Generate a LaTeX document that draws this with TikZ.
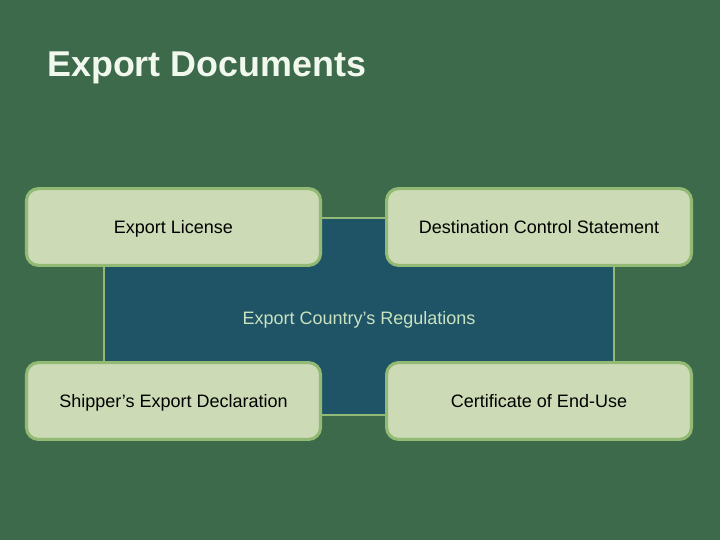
\documentclass[tikz,border=0pt]{standalone}
\usepackage{fontspec}
\setmainfont{Liberation Sans}
\usetikzlibrary{positioning}

\definecolor{bggreen}{HTML}{3D6A4A}
\definecolor{coreblue}{HTML}{1F5366}
\definecolor{boxfill}{HTML}{CCDBB6}
\definecolor{boxline}{HTML}{93BA74}
\definecolor{titletext}{HTML}{F1F8EE}
\definecolor{coretext}{HTML}{C9E2C0}

\tikzset{
  docbox/.style = {fill = boxfill, draw = boxline, line width = 2.2pt, shape = rectangle,
    rounded corners = 0.3cm, minimum width = 7.35cm, minimum height = 1.92cm,
    text height = 0.9em, text depth = 0pt, font = \fontsize{12.8}{15}\selectfont},
  widebox/.style = {docbox, minimum width = 7.62cm},
  corebox/.style = {fill = coreblue, draw = boxline, line width = 1.6pt, shape = rectangle,
    minimum width = 12.75cm, minimum height = 4.92cm}
}

\begin{document}
\begin{tikzpicture}[x = 0.025cm, y = -0.025cm]
\useasboundingbox[fill = bggreen] (0,0) rectangle (720,540);
\node[anchor = base west, text = titletext, font = \bfseries\fontsize{25.5}{30}\selectfont, inner sep = 0pt] (title) at (47,76.5) {Export Documents};

\node[corebox] (core) at (359,316.5) {};
\node[text = coretext, text height = 0.9em, text depth = 0pt, font = \fontsize{12.8}{15}\selectfont] (regs) at (359,318) {Export Country’s Regulations};

\node[docbox] (lic) at (173.5,227) {Export License};
\node[widebox] (dcs) at (539,227) {Destination Control Statement};
\node[docbox] (sed) at (173.5,401) {Shipper’s Export Declaration};
\node[widebox] (eu) at (539,401) {Certificate of End-Use};
\end{tikzpicture}
\end{document}
